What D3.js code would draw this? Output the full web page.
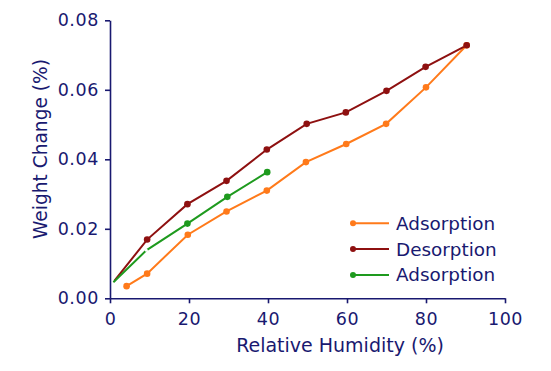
<!DOCTYPE html>
<html>

<head>
    <script src="https://d3js.org/d3.v7.min.js"></script>
    <style>
        body { margin: 0; background: #fff; }
        text { font-family: "DejaVu Sans", Verdana, sans-serif; }
    </style>
</head>

<body>
    <svg id="chart" width="551" height="371"></svg>
    <script>
        // values
        const adsorptionRH = [4.2, 9.4, 19.7, 29.5, 39.7, 49.6, 59.8, 69.9, 80.0, 90.3]
        const adsorptionWt = [0.0035, 0.0071, 0.0183, 0.0250, 0.0310, 0.0392, 0.0444, 0.0502, 0.0607, 0.0728]

        const desorptionRH = [1.1, 9.4, 19.6, 29.5, 39.7, 49.8, 59.7, 70.0, 79.9, 90.3]
        const desorptionWt = [0.0050, 0.0169, 0.0271, 0.0338, 0.0428, 0.0502, 0.0535, 0.0597, 0.0666, 0.0728]

        const adsorption2RH = [0.85, 9.2, 19.6, 29.7, 39.8]
        const adsorption2Wt = [0.0046, 0.0138, 0.0215, 0.0292, 0.0363]

        const xTicks = [0, 20, 40, 60, 80, 100]
        const yTicks = [0, 0.02, 0.04, 0.06, 0.08]
        const legendLabels = ["Adsorption", "Desorption", "Adsorption"]

        const navy = "#191970"
        const colors = ["#ff7a1a", "#8e1010", "#1e9a1e"]

        const svg = d3.select("#chart")
        const x = d3.scaleLinear().domain([0, 100]).range([110, 505])
        const y = d3.scaleLinear().domain([0, 0.08]).range([298.3, 20.3])

        const zip = (xs, ys) => xs.map((v, i) => ({ x: v, y: ys[i] }))
        const series = [
            { name: legendLabels[0], color: colors[0], pts: zip(adsorptionRH, adsorptionWt), skipMarks: [] },
            { name: legendLabels[1], color: colors[1], pts: zip(desorptionRH, desorptionWt), skipMarks: [0] },
            { name: legendLabels[2], color: colors[2], pts: zip(adsorption2RH, adsorption2Wt), skipMarks: [0, 1] },
        ]

        // axes
        const xAxis = svg.append("g")
            .attr("transform", `translate(0,${y(0)})`)
            .call(d3.axisBottom(x).tickValues(xTicks).tickFormat(d3.format("d")).tickSize(5).tickSizeOuter(0).tickPadding(9))
        const yAxis = svg.append("g")
            .attr("transform", `translate(${x(0)},0)`)
            .call(d3.axisLeft(y).tickValues(yTicks).tickFormat(d3.format(".2f")).tickSize(5).tickSizeOuter(0).tickPadding(6))
        for (const ax of [xAxis, yAxis]) {
            ax.selectAll("path, line").attr("stroke", navy).attr("stroke-width", 1.6)
            ax.selectAll("text").attr("fill", navy).attr("font-size", 17.5).attr("letter-spacing", 0.6)
        }

        svg.append("text")
            .attr("x", 340).attr("y", 352)
            .attr("text-anchor", "middle")
            .attr("fill", navy).attr("font-size", 19)
            .text("Relative Humidity (%)")
        svg.append("text")
            .attr("transform", "translate(47,149) rotate(-90)")
            .attr("text-anchor", "middle")
            .attr("fill", navy).attr("font-size", 18.6)
            .text("Weight Change (%)")

        // lines and markers
        const line = d3.line().x(d => x(d.x)).y(d => y(d.y))
        series.forEach(s => {
            svg.append("path")
                .datum(s.pts)
                .attr("d", line)
                .attr("fill", "none")
                .attr("stroke", s.color)
                .attr("stroke-width", 2)
        })
        series.forEach(s => {
            svg.selectAll(null)
                .data(s.pts.filter((d, i) => !s.skipMarks.includes(i)))
                .enter()
                .append("circle")
                .attr("cx", d => x(d.x))
                .attr("cy", d => y(d.y))
                .attr("r", 3.3)
                .attr("fill", s.color)
        })
        // small break in the green line
        const gap = series[2].pts[1]
        svg.append("circle")
            .attr("cx", x(gap.x)).attr("cy", y(gap.y))
            .attr("r", 1.5).attr("fill", "#fff")

        // legend
        const legend = svg.append("g")
        series.forEach((s, i) => {
            const ly = 223.3 + i * 25.8
            legend.append("line")
                .attr("x1", 352).attr("x2", 389).attr("y1", ly).attr("y2", ly)
                .attr("stroke", s.color).attr("stroke-width", 2)
            legend.append("circle")
                .attr("cx", 353).attr("cy", ly).attr("r", 3).attr("fill", s.color)
            legend.append("text")
                .attr("x", 396).attr("y", ly).attr("dy", "0.35em")
                .attr("fill", navy).attr("font-size", 18.4)
                .text(s.name)
        })
    </script>
</body>

</html>
